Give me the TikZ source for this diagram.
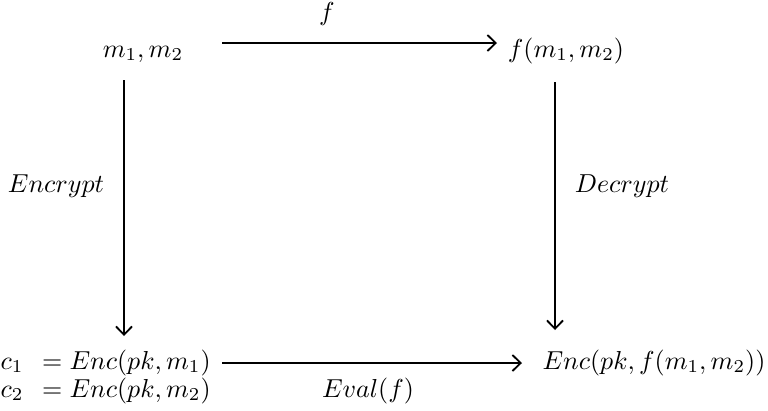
\documentclass[tikz,border=0pt]{standalone}
\usetikzlibrary{arrows.meta,calc}
\tikzset{
  lbl/.style={inner sep=0pt},
  arr/.style={line width=0.7pt, -{Straight Barb[length=3.2pt,width=6.2pt,line width=0.7pt]}},
}
\begin{document}
\begin{tikzpicture}[x=0.385pt,y=-0.385pt]
\useasboundingbox (0,0) rectangle (768,410);
% nodes
\node[lbl, anchor=base] (m12) at (143,57) {$m_1, m_2$};
\node[lbl, anchor=base] (fm) at (566,57) {$f(m_1, m_2)$};
\node[lbl, anchor=base west] (c1) at (0,369) {$c_1\;\, = Enc(pk, m_1)$};
\node[lbl, anchor=base west] (c2) at (0,397) {$c_2\;\, = Enc(pk, m_2)$};
\node[lbl, anchor=base] (enc) at (654,369) {$Enc(pk, f(m_1, m_2))$};
% labels
\node[lbl] (lf) at (327,14) {$f$};
\node[lbl, anchor=base] (leval) at (368,397) {$Eval(f)$};
\node[lbl, anchor=base] (lenc) at (56,192) {$Encrypt$};
\node[lbl, anchor=base] (ldec) at (622,192) {$Decrypt$};
% connectors
\draw[arr] ($(m12.base)+(79,-14)$) -- ($(fm.base)+(-69,-14)$);
\draw[arr] ($(m12.base)+(-19,23)$) -- ($(c1.base west)+(124,-33)$);
\draw[arr] ($(fm.base)+(-11,25)$) -- ($(enc.base)+(-99,-39)$);
\draw[arr] ($(c1.base west)+(222,-6)$) -- ($(enc.base)+(-132,-6)$);
\end{tikzpicture}
\end{document}
